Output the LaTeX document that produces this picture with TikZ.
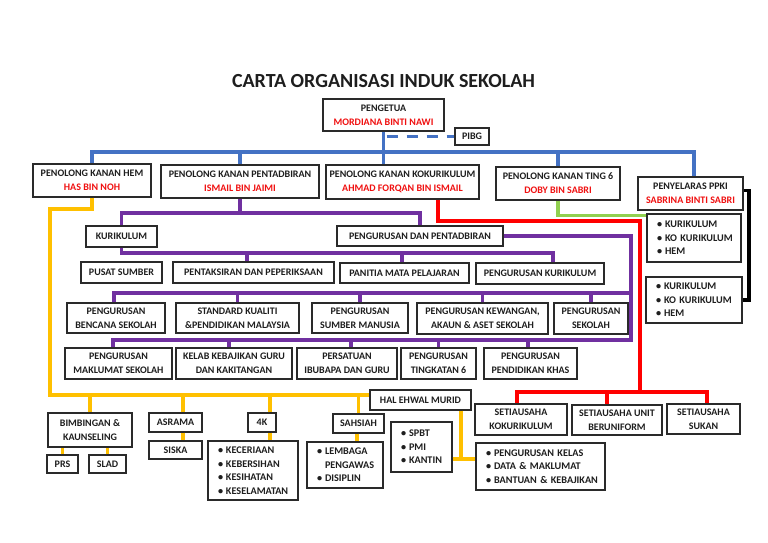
\documentclass[tikz,border=0pt]{standalone}
\usepackage{fontspec}
\setmainfont{Carlito}
\definecolor{cblue}{HTML}{4472C4}
\definecolor{cpurp}{HTML}{7030A0}
\definecolor{cyell}{HTML}{FFC000}
\definecolor{cred}{HTML}{FF0000}
\definecolor{cgreen}{HTML}{92D050}
\definecolor{boxc}{HTML}{2A2A2A}
\definecolor{txt}{HTML}{1E1E1E}
\definecolor{nred}{HTML}{F01010}
\newcommand\nm[1]{\textcolor{nred}{#1}}
\newcommand\itm[1]{\makebox[8pt][l]{•}\mbox{#1}}
\tikzset{
  box/.style={draw=boxc, line width=1.3pt, fill=white, align=center, inner sep=1pt,
    font=\fontsize{10}{14}\selectfont\bfseries, text=txt},
  lst/.style={box, align=left, inner xsep=10pt, font=\fontsize{10.2}{13.5}\selectfont\bfseries},
  conn/.style={line width=3.2pt},
  bl/.style={conn, draw=cblue},
  pu/.style={conn, draw=cpurp},
  ye/.style={conn, draw=cyell},
  rd/.style={conn, draw=cred},
  gr/.style={conn, draw=cgreen},
  bk/.style={conn, draw=black},
}
\newcommand\BX[6]{%
  \pgfmathsetmacro\cx{(#2+#4)/2}\pgfmathsetmacro\cy{(#3+#5)/2}%
  \pgfmathsetmacro\ww{#4-#2}\pgfmathsetmacro\hh{#5-#3}%
  \node[box, minimum width=\ww pt, minimum height=\hh pt] (#1) at (\cx,\cy) {#6};}
\newcommand\LX[6]{%
  \pgfmathsetmacro\cx{(#2+#4)/2}\pgfmathsetmacro\cy{(#3+#5)/2}%
  \pgfmathsetmacro\ww{#4-#2}\pgfmathsetmacro\hh{#5-#3}\pgfmathsetmacro\tw{#4-#2-20}%
  \node[lst, minimum width=\ww pt, minimum height=\hh pt, text width=\tw pt] (#1) at (\cx,\cy) {#6};}
\begin{document}
\begin{tikzpicture}[x=1pt,y=-1pt]
\useasboundingbox[fill=white] (0,0) rectangle (768,543);
\node[font=\fontsize{20}{24}\selectfont\bfseries, text=txt] (title) at (383.5,81) {CARTA ORGANISASI INDUK SEKOLAH};

\BX{peng}{323}{99}{444}{131}{PENGETUA\\\nm{MORDIANA BINTI NAWI}}
\BX{pibg}{455}{128}{489}{145}{PIBG}
\BX{hem}{33}{164}{151}{197}{PENOLONG KANAN HEM\\\nm{HAS BIN NOH}}
\BX{ptd}{161}{165}{319}{198}{PENOLONG KANAN PENTADBIRAN\\\nm{ISMAIL BIN JAIMI}}
\BX{kok}{326}{165}{479}{199}{PENOLONG KANAN KOKURIKULUM\\\nm{AHMAD FORQAN BIN ISMAIL}}
\BX{ting}{496}{167}{620}{200}{PENOLONG KANAN TING 6\\\nm{DOBY BIN SABRI}}
\BX{ppki}{638}{177}{743}{210}{PENYELARAS PPKI\\\nm{SABRINA BINTI SABRI}}
\BX{kuri}{86}{226}{157}{247}{KURIKULUM}
\BX{pdp}{337}{226}{503}{246}{PENGURUSAN DAN PENTADBIRAN}
\BX{pusat}{81}{262}{162}{283}{PUSAT SUMBER}
\BX{taksir}{173}{262}{334}{283}{PENTAKSIRAN DAN PEPERIKSAAN}
\BX{panitia}{340}{263}{469}{283}{PANITIA MATA PELAJARAN}
\BX{pkuri}{476}{263}{604}{284}{PENGURUSAN KURIKULUM}
\BX{bencana}{67}{303}{165}{333}{PENGURUSAN\\BENCANA SEKOLAH}
\BX{standard}{176}{303}{299}{333}{STANDARD KUALITI\\\&PENDIDIKAN MALAYSIA}
\BX{sumber}{312}{303}{408}{333}{PENGURUSAN\\SUMBER MANUSIA}
\BX{kewangan}{417}{303}{548}{334}{PENGURUSAN KEWANGAN,\\AKAUN \& ASET SEKOLAH}
\BX{psek}{554}{303}{628}{334}{PENGURUSAN\\SEKOLAH}
\BX{maklumat}{65}{348}{172}{379}{PENGURUSAN\\MAKLUMAT SEKOLAH}
\BX{kelab}{176}{348}{292}{379}{KELAB KEBAJIKAN GURU\\DAN KAKITANGAN}
\BX{persatuan}{297}{348}{397}{379}{PERSATUAN\\IBUBAPA DAN GURU}
\BX{tingkatan}{401}{348}{476}{379}{PENGURUSAN\\TINGKATAN 6}
\BX{khas}{484}{348}{577}{379}{PENGURUSAN\\PENDIDIKAN KHAS}
\BX{hal}{370}{390}{471}{410}{HAL EHWAL MURID}
\BX{sukok}{475}{404}{567}{435}{SETIAUSAHA\\KOKURIKULUM}
\BX{suunit}{572}{405}{662}{435}{SETIAUSAHA UNIT\\BERUNIFORM}
\BX{susukan}{667}{404}{740}{434}{SETIAUSAHA\\SUKAN}
\BX{bimb}{48}{413}{132}{447}{BIMBINGAN \&\\KAUNSELING}
\BX{prs}{47}{455}{78}{473}{PRS}
\BX{slad}{89}{455}{126}{473}{SLAD}
\BX{asrama}{149}{413}{202}{432}{ASRAMA}
\BX{siska}{149}{441}{202}{459}{SISKA}
\BX{kk}{248}{413}{276}{432}{4K}
\BX{sahsiah}{333}{414}{384}{433}{SAHSIAH}

\LX{plist}{647}{214}{741}{262}{\itm{KURIKULUM}\\\itm{KO KURIKULUM}\\\itm{HEM}}
\LX{plistb}{646}{277}{742}{323}{\itm{KURIKULUM}\\\itm{KO KURIKULUM}\\\itm{HEM}}
\LX{kklist}{208}{441}{298}{500}{\itm{KECERIAAN}\\\itm{KEBERSIHAN}\\\itm{KESIHATAN}\\\itm{KESELAMATAN}}
\LX{sahlist}{307}{442}{383}{488}{\itm{LEMBAGA}\\\hspace*{8pt}\mbox{PENGAWAS}\\\itm{DISIPLIN}}
\LX{spbt}{391}{422}{452}{472}{\itm{SPBT}\\\itm{PMI}\\\itm{KANTIN}}
\LX{kelas}{476}{443}{605}{490}{\itm{PENGURUSAN KELAS}\\\itm{DATA \& MAKLUMAT}\\\itm{BANTUAN \& KEBAJIKAN}}

% bus levels
\coordinate (bb) at (0,152);
\coordinate (pb1) at (0,213);
\coordinate (pb2) at (0,253);
\coordinate (pb3) at (0,293);
\coordinate (pb4) at (0,340);
\coordinate (pr) at (631,0);
\coordinate (rb) at (0,221);
\coordinate (rx) at (640,0);
\coordinate (rb2) at (0,392);
\coordinate (bx) at (749,0);
\coordinate (yx) at (50,0);
\coordinate (yt) at (0,209);
\coordinate (yb) at (0,395);
\coordinate (yh) at (0,459);

% blue
\draw[bl] (hem.north) |- ([xshift=3.5pt]ppki.north |- bb) -- ([xshift=3.5pt]ppki.north);
\draw[bl] (ptd.north) -- (ptd.north |- bb);
\draw[bl] (ting.north) -- (ting.north |- bb);
\draw[bl] (peng.south) -- (peng.south |- kok.north);
\draw[bl, dash pattern=on 11pt off 9pt] ([xshift=3pt]peng.south |- pibg.west) -- (pibg.west);

% purple
\draw[pu] (kuri.north) |- (pdp.north |- pb1) -- (pdp.north);
\draw[pu] (ptd.south) -- (ptd.south |- pb1);
\draw[pu] (kuri.south) |- ([xshift=13pt]pkuri.north |- pb2) -- ([xshift=13pt]pkuri.north);
\draw[pu] ([xshift=-6.5pt]taksir.north) -- ([xshift=-6.5pt]taksir.north |- pb2);
\draw[pu] ([xshift=-2.5pt]panitia.north) -- ([xshift=-2.5pt]panitia.north |- pb2);
\draw[pu] (pdp.east) -| (pr |- pb4) -- ([xshift=-5.5pt]maklumat.north |- pb4) -- ([xshift=-5.5pt]maklumat.north);
\draw[pu] ([xshift=-2pt]bencana.north) |- (pr |- pb3);
\draw[pu] (standard.north) -- (standard.north |- pb3);
\draw[pu] (sumber.north) -- (sumber.north |- pb3);
\draw[pu] (kewangan.north) -- (kewangan.north |- pb3);
\draw[pu] (psek.north) -- (psek.north |- pb3);
\draw[pu] ([xshift=-5pt]kelab.north) -- ([xshift=-5pt]kelab.north |- pb4);
\draw[pu] ([xshift=4pt]persatuan.north) -- ([xshift=4pt]persatuan.north |- pb4);
\draw[pu] (tingkatan.north) -- (tingkatan.north |- pb4);
\draw[pu] ([xshift=-2.5pt]khas.north) -- ([xshift=-2.5pt]khas.north |- pb4);

% red
\draw[rd] ([xshift=35.5pt]kok.south) |- (rx |- rb) -- (rx |- rb2);
\draw[rd] ([xshift=-4pt]sukok.north) |- ([xshift=3.5pt]susukan.north |- rb2) -- ([xshift=3.5pt]susukan.north);
\draw[rd] ([xshift=-10pt]suunit.north) -- ([xshift=-10pt]suunit.north |- rb2);

% green
\draw[gr] (ting.south) |- ([yshift=-2pt]plist.north west);

% black
\draw[bk] ([yshift=3pt]ppki.east) -| (bx |- plistb.east) -- (plistb.east);

% yellow
\draw[ye] (hem.south) |- (yx |- yt) -- (yx |- yb) -- ([yshift=5pt]hal.west);
\draw[ye] (bimb.north) -- (bimb.north |- yb);
\draw[ye] ([xshift=7.5pt]asrama.north) -- ([xshift=7.5pt]asrama.north |- yb);
\draw[ye] ([xshift=8pt]kk.north) -- ([xshift=8pt]kk.north |- yb);
\draw[ye] (sahsiah.north) -- (sahsiah.north |- yb);
\draw[ye] (prs.north) -- (prs.north |- bimb.south);
\draw[ye] (slad.north) -- (slad.north |- bimb.south);
\draw[ye] ([xshift=7.5pt]asrama.south) -- ([xshift=7.5pt]asrama.south |- siska.north);
\draw[ye] ([xshift=8pt]kk.south) -- ([xshift=8pt]kk.south |- kklist.north);
\draw[ye] ([xshift=-1.5pt]sahsiah.south) -- ([xshift=-1.5pt]sahsiah.south |- sahlist.north);
\draw[ye] ([xshift=40.5pt]hal.south) -- ([xshift=40.5pt]hal.south |- yh);
\draw[ye] (spbt.east |- yh) -- (kelas.west |- yh);
\end{tikzpicture}
\end{document}
